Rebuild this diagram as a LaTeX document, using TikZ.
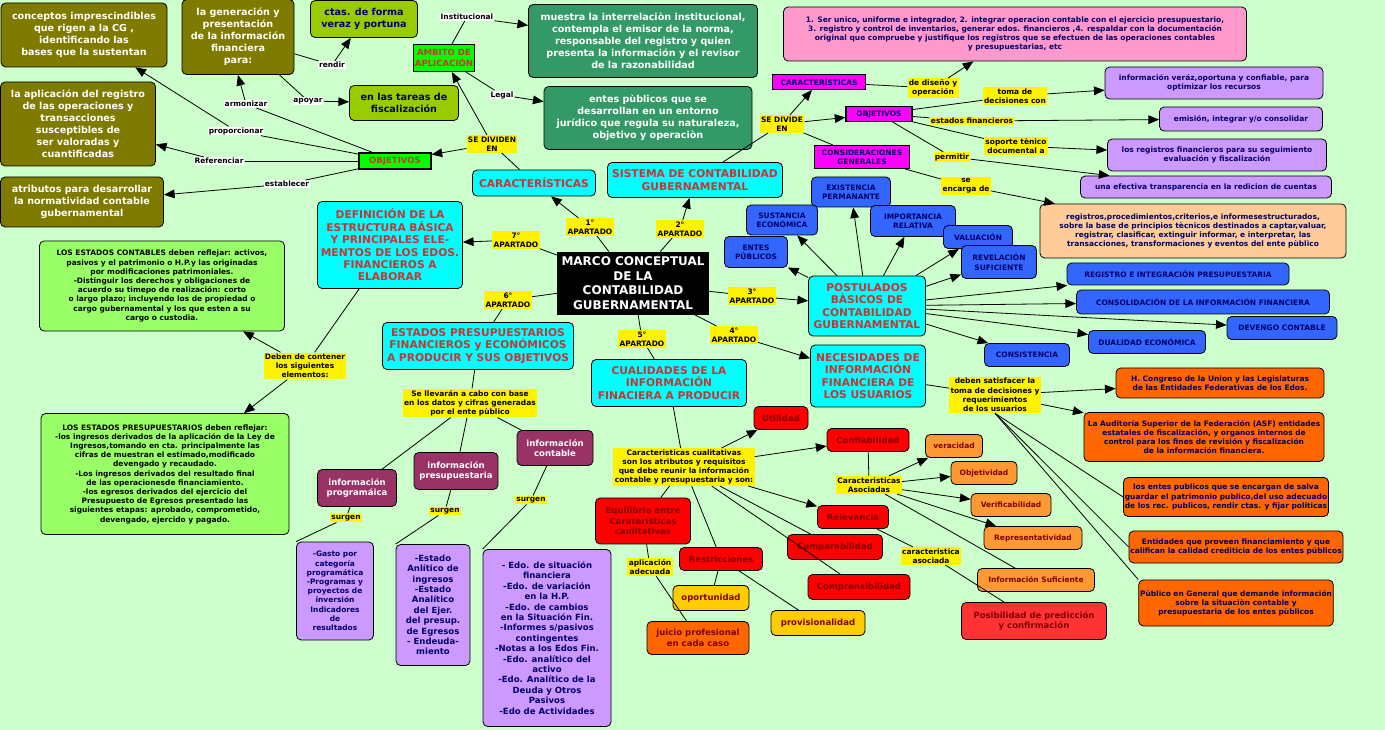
\documentclass[tikz,border=0pt]{standalone}
\usepackage{fontspec}
\setmainfont{DejaVu Sans}
\usetikzlibrary{arrows.meta}
\newlength{\px}\setlength{\px}{0.75pt}
\definecolor{bg}{HTML}{CCFFCC}
\definecolor{olv}{HTML}{7F7B00}
\definecolor{lolv}{HTML}{99CC00}
\definecolor{grn}{HTML}{00FF00}
\definecolor{dgrn}{HTML}{339966}
\definecolor{cya}{HTML}{00FFFF}
\definecolor{blu}{HTML}{3366FF}
\definecolor{navy}{HTML}{000066}
\definecolor{mag}{HTML}{FF00FF}
\definecolor{pnk}{HTML}{FF99CC}
\definecolor{pur}{HTML}{CC99FF}
\definecolor{pch}{HTML}{FFCC99}
\definecolor{orn}{HTML}{FF6600}
\definecolor{rd}{HTML}{FF0000}
\definecolor{drd}{HTML}{800000}
\definecolor{gld}{HTML}{FFCC00}
\definecolor{lorn}{HTML}{FF9933}
\definecolor{prd}{HTML}{FF3333}
\definecolor{lgr}{HTML}{99FF66}
\definecolor{mar}{HTML}{993366}
\definecolor{ctx}{HTML}{CC3333}
\newcommand{\fA}{\fontsize{5.6}{6.9}\selectfont\bfseries}
\newcommand{\fB}{\fontsize{6.4}{7.8}\selectfont\bfseries}
\newcommand{\fC}{\fontsize{7.2}{9}\selectfont\bfseries}
\newcommand{\fD}{\fontsize{8}{9.3}\selectfont\bfseries}
\newcommand{\fE}{\fontsize{9}{11}\selectfont\bfseries}
\tikzset{
  bx/.style={draw=black, line width=0.6pt, rounded corners=3.5pt, align=center, inner sep=1pt},
  rb/.style={draw=black, line width=0.8pt, align=center, inner sep=1pt},
  olive/.style={bx, fill=olv, text=white, font=\fC},
  lolive/.style={bx, fill=lolv, text=navy, font=\fC},
  dgreen/.style={bx, fill=dgrn, text=white, font=\fC},
  cyan/.style={bx, fill=cya, text=ctx, font=\fD},
  blue/.style={bx, fill=blu, text=navy, font=\fA},
  magb/.style={rb, fill=mag, text=navy, font=\fA},
  purb/.style={bx, fill=pur, text=navy, font=\fA},
  orb/.style={bx, fill=orn, text=navy, font=\fA},
  redb/.style={bx, fill=rd, text=drd, font=\fB},
  lorb/.style={bx, fill=lorn, text=drd, font=\fA},
  gldb/.style={bx, fill=gld, text=drd, font=\fB},
  lgrb/.style={bx, fill=lgr, text=black, font=\fA},
  marb/.style={bx, fill=mar, text=white, font=\fB},
  yl/.style={fill=yellow, text=black, align=center, inner sep=1pt, font=\fA},
  wl/.style={fill=white, text=black, align=center, inner sep=0.6pt, font=\fA},
  ar/.style={-{Triangle[length=8pt,width=6.5pt]}, line width=0.6pt},
  ln/.style={line width=0.6pt}}
\begin{document}
\begin{tikzpicture}[x=0.75pt,y=-0.75pt]
\fill[bg] (0,0) rectangle (1385,730);
\useasboundingbox (0,0) rectangle (1385,730);

% ---------- top left
\node[olive, minimum width=166\px, minimum height=64\px] (c1) at (84,35) {conceptos imprescindibles\\que rigen a la CG ,\\identificando las\\bases que la sustentan};
\node[olive, minimum width=155\px, minimum height=84\px] (c2) at (78,124) {la aplicación del registro\\de las operaciones y\\transacciones\\susceptibles de\\ser valoradas y\\cuantificadas};
\node[olive, minimum width=163\px, minimum height=50\px] (c3) at (82,202) {atributos para desarrollar\\la normatividad  contable\\gubernamental};
\node[olive, minimum width=112\px, minimum height=75\px] (c4) at (238,37) {la generación y\\presentación\\de la información\\financiera\\para:};
\node[lolive, minimum width=107\px, minimum height=37\px] (c5) at (364,19) {ctas. de forma\\veraz y portuna};
\node[lolive, minimum width=109\px, minimum height=35\px] (c6) at (404,103) {en las tareas de\\fiscalización};
\node[rb, fill=grn, text=ctx, font=\fB, minimum width=72\px, minimum height=16\px] (obj1) at (395,161) {OBJETIVOS};
\node[rb, fill=grn, text=ctx, font=\fB, minimum width=51\px, minimum height=27\px] (amb) at (444,58) {AMBITO DE\\APLICACIÓN};
\node[dgreen, minimum width=229\px, minimum height=73\px] (g1) at (643,41) {muestra la interrelaciòn institucional,\\contempla el emisor de la norma,\\responsable del registro y quien\\presenta la información y el revisor\\de la razonabilidad};
\node[dgreen, minimum width=208\px, minimum height=63\px] (g2) at (648,118) {entes pùblicos que se\\desarrollan en un entorno\\jurídico que regula su naturaleza,\\objetivo y operaciòn};

\node[wl] (larm) at (246,104) {armonizar};
\node[wl] (lren) at (332,65) {rendir};
\node[wl] (lapo) at (308,101) {apoyar};
\node[wl] (lpro) at (236,131) {proporcionar};
\node[wl] (lref) at (219,161) {Referenciar};
\node[wl] (lest) at (287,184) {establecer};
\node[wl] (lins) at (467,17) {Institucional};
\node[wl] (lleg) at (502,95) {Legal};
\node[yl] (lsd) at (492,144) {SE DIVIDEN\\EN};

\draw[ln] (obj1) -- (larm); \draw[ar] (larm) -- (c4.south);
\draw[ln] (c4) -- (lren); \draw[ar] (lren) -- (c5);
\draw[ln] (c4) -- (lapo); \draw[ar] (lapo) -- (c6);
\draw[ln] (obj1) -- (lpro); \draw[ar] (lpro) -- (c1);
\draw[ln] (obj1) -- (lref); \draw[ar] (lref) -- (c2);
\draw[ln] (obj1) -- (lest); \draw[ar] (lest) -- (c3);
\draw[ln] (amb) -- (lins); \draw[ar] (lins) -- (g1);
\draw[ln] (amb) -- (lleg); \draw[ar] (lleg) -- (g2);

% ---------- centre
\node[bx, fill=black, text=white, font=\fE, rounded corners=0pt, minimum width=151\px, minimum height=62\px] (marco) at (633,283) {MARCO CONCEPTUAL\\DE LA\\CONTABILIDAD\\GUBERNAMENTAL};
\node[cyan, minimum width=123\px, minimum height=26\px] (car) at (534,183) {CARACTERÍSTICAS};
\node[cyan, minimum width=175\px, minimum height=35\px] (scg) at (695,180) {SISTEMA DE CONTABILIDAD\\GUBERNAMENTAL};
\node[cyan, minimum width=145\px, minimum height=87\px] (def) at (390,245) {DEFINICIÓN DE LA\\ESTRUCTURA BÁSICA\\Y PRINCIPALES ELE-\\MENTOS DE LOS EDOS.\\FINANCIEROS A\\ELABORAR};
\node[cyan, minimum width=191\px, minimum height=47\px] (epr) at (478,346) {ESTADOS  PRESUPUESTARIOS\\FINANCIEROS y ECONÓMICOS\\A PRODUCIR Y SUS OBJETIVOS};
\node[cyan, minimum width=155\px, minimum height=47\px] (cua) at (669,383) {CUALIDADES DE LA\\INFORMACIÓN\\FINACIERA A PRODUCIR};
\node[cyan, minimum width=117\px, minimum height=60\px] (pos) at (867,306) {POSTULADOS\\BÀSICOS DE\\CONTABILIDAD\\GUBERNAMENTAL};
\node[cyan, minimum width=115\px, minimum height=62\px] (nec) at (868,376) {NECESIDADES DE\\INFORMACIÓN\\FINANCIERA  DE\\LOS USUARIOS};

\node[yl] (a1) at (590,227) {1°\\APARTADO};
\node[yl] (a2) at (680,229) {2°\\APARTADO};
\node[yl] (a7) at (516,240) {7°\\APARTADO};
\node[yl] (a6) at (508,300) {6°\\APARTADO};
\node[yl] (a5) at (642,339) {5°\\APARTADO};
\node[yl] (a4) at (734,335) {4°\\APARTADO};
\node[yl] (a3) at (752,296) {3°\\APARTADO};

\draw[ln] (marco) -- (a1); \draw[ar] (a1) -- (car);
\draw[ln] (marco) -- (a2); \draw[ar] (a2) -- (scg);
\draw[ln] (marco) -- (a7); \draw[ar] (a7) -- (def);
\draw[ln] (marco) -- (a6); \draw[ln] (a6) -- (epr);
\draw[ln] (marco) -- (a5); \draw[ln] (a5) -- (cua);
\draw[ln] (marco) -- (a4); \draw[ar] (a4) -- (nec);
\draw[ln] (marco) -- (a3); \draw[ar] (a3) -- (pos);
\draw[ln] (car) -- (lsd); \draw[ar] (lsd) -- (obj1); \draw[ar] (lsd) -- (amb);

% ---------- sistema
\node[magb, minimum width=93\px, minimum height=15\px] (car2) at (819,82) {CARACTERÍSTICAS};
\node[magb, minimum width=66\px, minimum height=15\px] (obj2) at (879,114) {OBJETIVOS};
\node[magb, minimum width=95\px, minimum height=23\px] (cg) at (862,157) {CONSIDERACIONES\\GENERALES};
\node[yl] (lsd2) at (782,124) {SE DIVIDE\\EN};
\node[bx, fill=pnk, text=navy, font=\fA, minimum width=463\px, minimum height=54\px] (pink) at (1015,34) {1. Ser unico, uniforme e integrador, 2. integrar operacion contable  con el ejercicio presupuestario,\\3. registro y control de inventarios, generar edos. financieros ,4. respaldar  con la documentación\\original que compruebe y justifique los registros que se efectuen de las operaciones contables\\y presupuestarias, etc};
\node[purb, minimum width=218\px, minimum height=32\px] (p1) at (1214,83) {información veráz,oportuna y confiable, para\\optimizar los recursos};
\node[purb, minimum width=163\px, minimum height=24\px] (p2) at (1241,119) {emisión, integrar y/o consolidar};
\node[purb, minimum width=219\px, minimum height=32\px] (p3) at (1217,155) {los registros financieros para su seguimiento\\evaluación y fiscalización};
\node[purb, minimum width=251\px, minimum height=22\px] (p4) at (1206,187) {una efectiva transparencia en la redicion de cuentas};
\node[bx, fill=pch, text=navy, font=\fA, minimum width=306\px, minimum height=54\px] (pch) at (1193,231) {registros,procedimientos,criterios,e informesestructurados,\\sobre la base de principios tècnicos destinados a captar,valuar,\\registrar, clasificar, extinguir informar,  e interpretar, las\\transacciones, transformaciones y eventos del ente pùblico};
\node[yl] (ldis) at (933,88) {de diseño y\\operación};
\node[yl] (ltom) at (1015,96) {toma de\\decisiones con};
\node[yl] (lef) at (972,121) {estados financieros};
\node[yl] (lsop) at (1016,146) {soporte tènico\\documental a};
\node[yl] (lper) at (952,157) {permitir};
\node[yl] (lenc) at (966,186) {se\\encarga de};

\draw[ln] (scg) -- (lsd2); \draw[ar] (lsd2) -- (car2); \draw[ar] (lsd2) -- (obj2); \draw[ln] (lsd2) -- (cg);
\draw[ln] (car2) -- (ldis); \draw[ar] (ldis) -- (pink);
\draw[ln] (obj2) -- (ltom); \draw[ar] (ltom) -- (p1);
\draw[ln] (obj2) -- (lef); \draw[ar] (lef) -- (p2);
\draw[ln] (obj2) -- (lsop); \draw[ar] (lsop) -- (p3);
\draw[ln] (obj2) -- (lper); \draw[ar] (lper) -- (p4);
\draw[ln] (cg) -- (lenc); \draw[ar] (lenc) -- (pch);

% ---------- postulados
\node[blue, minimum width=79\px, minimum height=30\px] (ep) at (851,192) {EXISTENCIA\\PERMANANTE};
\node[blue, minimum width=71\px, minimum height=30\px] (se) at (782,220) {SUSTANCIA\\ECONÓMICA};
\node[blue, minimum width=63\px, minimum height=31\px] (en) at (756,252) {ENTES\\PÚBLICOS};
\node[blue, minimum width=85\px, minimum height=31\px] (ir) at (913,221) {IMPORTANCIA\\RELATIVA};
\node[blue, minimum width=69\px, minimum height=23\px] (val) at (978,237) {VALUACIÓN};
\node[blue, minimum width=75\px, minimum height=33\px] (rs) at (999,262) {REVELACIÓN\\SUFICIENTE};
\node[blue, minimum width=222\px, minimum height=22\px] (rip) at (1178,274) {REGISTRO E INTEGRACIÓN PRESUPUESTARIA};
\node[blue, minimum width=253\px, minimum height=24\px] (cif) at (1203,302) {CONSOLIDACIÓN DE LA INFORMACIÓN FINANCIERA};
\node[blue, minimum width=110\px, minimum height=23\px] (dev) at (1282,328) {DEVENGO CONTABLE};
\node[blue, minimum width=117\px, minimum height=23\px] (due) at (1147,342) {DUALIDAD ECONÓMICA};
\node[blue, minimum width=85\px, minimum height=23\px] (cons) at (1027,355) {CONSISTENCIA};
\foreach \t in {en,se,ep,ir,val,rs,rip,cif,dev,due,cons} \draw[ar] (pos) -- (\t);

% ---------- usuarios
\node[yl] (ldeb) at (995,395) {deben satisfacer la\\toma de decisiones y\\requerimientos\\de los usuarios};
\node[orb, minimum width=208\px, minimum height=30\px] (u1) at (1220,383) {H. Congreso de la Union  y las Legislaturas\\de las Entidades Federativas de los Edos.};
\node[orb, minimum width=240\px, minimum height=49\px] (u2) at (1204,437) {La Auditoría Superior  de la Federación (ASF) entidades\\estatales de fiscalización, y organos internos de\\control para los fines de revisión  y  fiscalización\\de la información  financiera.};
\node[orb, minimum width=196\px, minimum height=39\px] (u3) at (1226,497) {los entes publicos que se encargan de salva\\guardar el patrimonio publico,del uso adecuado\\de los rec. publicos, rendir ctas. y fijar politicas};
\node[orb, minimum width=191\px, minimum height=32\px] (u4) at (1236,547) {Entidades que proveen financiamiento y que\\califican la calidad crediticia de los entes públicos};
\node[orb, minimum width=192\px, minimum height=46\px] (u5) at (1236,603) {Pùblico en General que demande información\\sobre la situaciòn contable y\\presupuestaria de los entes pùblicos};
\draw[ln] (nec) -- (ldeb);
\draw[ar] (ldeb) -- (u1); \draw[ar] (ldeb) -- (u2);
\draw[ln] (ldeb.south) -- (u3.west); \draw[ln] (ldeb.south) -- (u4.west); \draw[ln] (ldeb.south) -- (u5.north west);

% ---------- cualidades
\node[yl] (lcc) at (684,467) {Caracteristicas cualitativas\\son los atributos y requisitos\\que debe reunir la información\\contable y presupuestaria y son:};
\node[redb, minimum width=54\px, minimum height=23\px] (uti) at (781,418) {Utilidad};
\node[redb, minimum width=82\px, minimum height=23\px] (con) at (868,440) {Confiabilidad};
\node[redb, minimum width=71\px, minimum height=23\px] (rel) at (853,517) {Relevancia};
\node[redb, minimum width=95\px, minimum height=25\px] (cmp) at (835,547) {Comparabilidad};
\node[redb, minimum width=102\px, minimum height=25\px] (cpr) at (859,587) {Comprensibilidad};
\node[redb, minimum width=95\px, minimum height=46\px] (equ) at (643,521) {Equilibrio entre\\Caraterísticas\\caulitativas};
\node[redb, minimum width=83\px, minimum height=23\px] (res) at (721,559) {Restricciones};
\node[gldb, minimum width=76\px, minimum height=25\px] (opo) at (711,598) {oportunidad};
\node[gldb, minimum width=94\px, minimum height=25\px] (pro) at (818,623) {provisionalidad};
\node[bx, fill=orn, text=drd, font=\fB, minimum width=102\px, minimum height=33\px] (jui) at (698,638) {juicio profesional\\en cada  caso};
\node[yl] (lapl) at (650,567) {aplicación\\adecuada};
\node[yl] (lasoc) at (869,485) {Caracteristicas\\Asociadas};
\node[lorb, minimum width=57\px, minimum height=23\px] (ver) at (954,446) {veracidad};
\node[lorb, minimum width=66\px, minimum height=23\px] (obt) at (984,473) {Objetividad};
\node[lorb, minimum width=80\px, minimum height=23\px] (vrf) at (1011,505) {Verificabilidad};
\node[lorb, minimum width=98\px, minimum height=23\px] (rep) at (1033,538) {Representatividad};
\node[lorb, minimum width=117\px, minimum height=23\px] (isf) at (1036,580) {Información Suficiente};
\node[yl] (lca) at (931,556) {caracteristica\\asociada};
\node[bx, fill=prd, text=drd, font=\fB, minimum width=145\px, minimum height=37\px] (psb) at (1034,621) {Posibilidad  de predicción\\y confirmación};

\draw[ln] (cua) -- (lcc);
\draw[ar] (lcc) -- (uti); \draw[ar] (lcc) -- (con); \draw[ar] (lcc) -- (rel);
\draw[ln] (lcc) -- (cmp); \draw[ln] (lcc) -- (cpr); \draw[ln] (lcc) -- (equ); \draw[ln] (lcc) -- (res);
\draw[ln] (equ) -- (lapl); \draw[ln] (lapl) -- (jui);
\draw[ln] (res) -- (opo); \draw[ln] (res) -- (pro);
\draw[ln] (con) -- (lasoc);
\draw[ar] (lasoc) -- (ver); \draw[ar] (lasoc) -- (obt); \draw[ar] (lasoc) -- (vrf); \draw[ar] (lasoc) -- (rep); \draw[ln] (lasoc) -- (isf);
\draw[ln] (rel) -- (lca); \draw[ln] (lca) -- (psb);

% ---------- left middle
\node[lgrb, minimum width=245\px, minimum height=90\px] (lec) at (162,286) {LOS ESTADOS CONTABLES deben reflejar: activos,\\pasivos y el patrimonio o H.P.y las originadas\\por modificaciones patrimoniales.\\-Distinguir los derechos y obligaciones de\\acuerdo su timepo de realización: corto\\o largo plazo; incluyendo los de propiedad o\\cargo gubernamental y los que esten a su\\cargo o custodia.};
\node[lgrb, minimum width=248\px, minimum height=121\px] (lep) at (165,474) {LOS ESTADOS PRESUPUESTARIOS  deben reflejar:\\-los ingresos derivados de la aplicación de la Ley de\\Ingresos,tomando en cta. principalmente las\\cifras de muestran el estimado,modificado\\devengado y recaudado.\\-Los ingresos derivados del resultado final\\de las operacionesde financiamiento.\\-los egresos derivados del ejercicio del\\Presupuesto de Egresos presentado las\\siguientes etapas: aprobado, comprometido,\\devengado, ejercido y pagado.};
\node[yl] (ldc) at (305,366) {Deben de contener\\los siguientes\\elementos:};
\draw[ln] (def) -- (ldc); \draw[ar] (ldc) -- (lec); \draw[ar] (ldc) -- (lep);

\node[yl] (llev) at (470,403) {Se llevarán a cabo con base\\en los datos y cifras generadas\\por el ente pùblico};
\node[marb, minimum width=79\px, minimum height=37\px] (ipg) at (357,488) {información\\programáica};
\node[marb, minimum width=84\px, minimum height=37\px] (ipr) at (456,471) {información\\presupuestaria};
\node[marb, minimum width=76\px, minimum height=35\px] (ico) at (555,448) {información\\contable};
\node[yl] (s1) at (346,518) {surgen};
\node[yl] (s2) at (445,511) {surgen};
\node[yl] (s3) at (531,500) {surgen};
\node[purb, minimum width=77\px, minimum height=98\px] (r1) at (335,591) {-Gasto por\\categoría\\programática\\-Programas y\\proyectos de\\inversión\\Indicadores\\de\\resultados};
\node[purb, font=\fB, minimum width=74\px, minimum height=121\px] (r2) at (433,605) {-Estado\\Anlítico de\\ingresos\\-Estado\\Analítico\\del Ejer.\\del presup.\\de Egresos\\- Endeuda-\\miento};
\node[purb, font=\fB, minimum width=128\px, minimum height=177\px] (r3) at (547,638) {- Edo. de situación\\financiera\\-Edo. de variación\\en la H.P.\\-Edo. de cambios\\en la Situación Fin.\\-Informes s/pasivos\\contingentes\\-Notas a los Edos Fin.\\-Edo. analítico del\\activo\\-Edo. Analítico de la\\Deuda y Otros\\Pasivos\\-Edo de Actividades};
\draw[ln] (epr) -- (llev);
\draw[ln] (llev) -- (ipg); \draw[ln] (llev) -- (ipr); \draw[ln] (llev) -- (ico);
\draw[ln] (ipg) -- (s1); \draw[ln] (s1) -- (r1.north west);
\draw[ln] (ipr) -- (s2); \draw[ln] (s2) -- (r2.north west);
\draw[ln] (ico) -- (s3); \draw[ln] (s3) -- (r3.north west);
\end{tikzpicture}
\end{document}
